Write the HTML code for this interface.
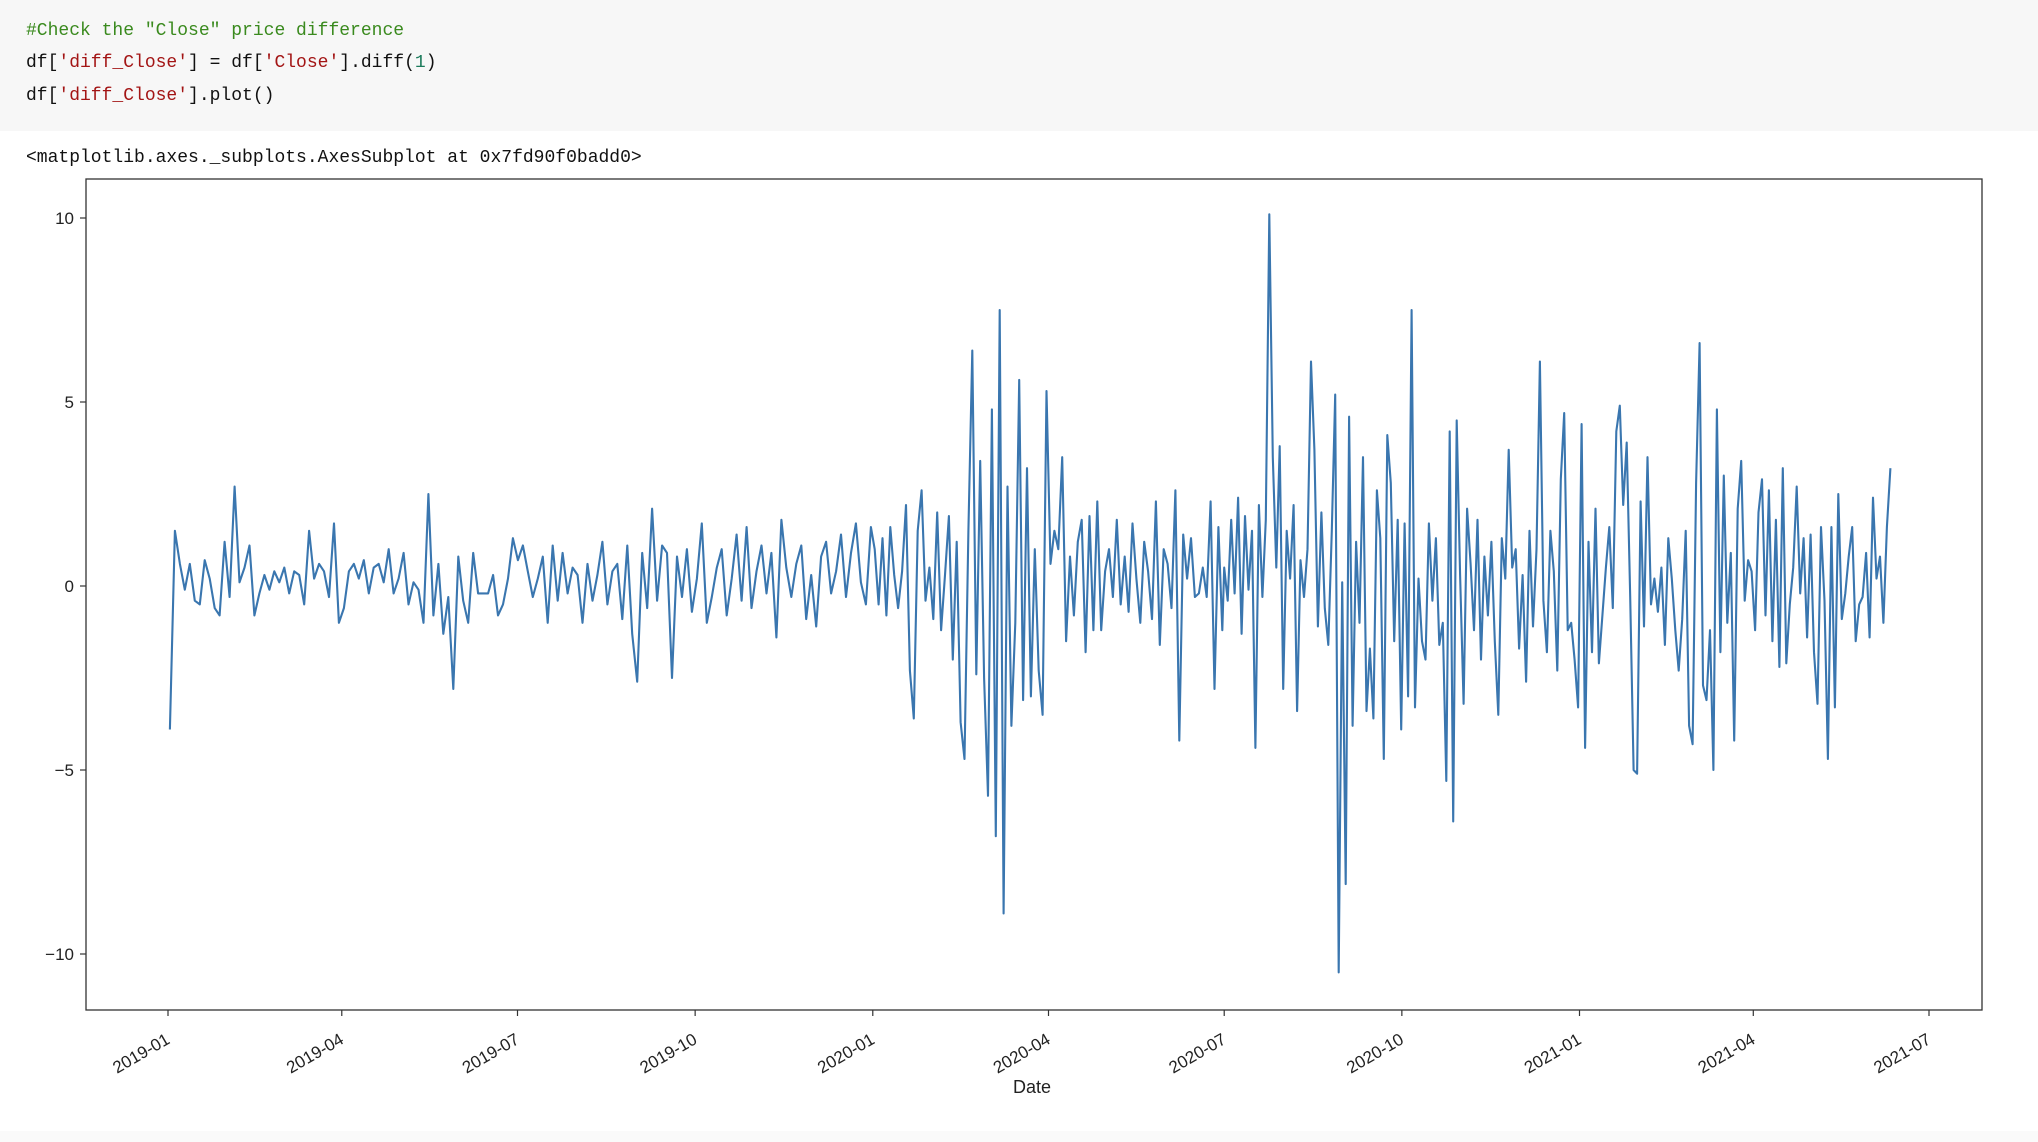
<!DOCTYPE html>
<html><head><meta charset="utf-8"><style>
body{margin:0;width:2038px;height:1142px;background:#fff;overflow:hidden;font-family:"Liberation Sans",sans-serif}
#code{position:absolute;left:0;top:0;width:2038px;height:131px;background:#f7f7f7}
.ln{position:absolute;left:26px;font:18px "Liberation Mono",monospace;color:#111;white-space:pre}
.cm{color:#3a8a1e}.st{color:#a31515}.nm{color:#1a7a5a}
#out{position:absolute;left:26px;top:148px;font:18px "Liberation Mono",monospace;color:#111;white-space:pre}
#foot{position:absolute;left:0;top:1131px;width:2038px;height:11px;background:#fafafa}
svg{position:absolute;left:0;top:0}
</style></head><body>
<div id="code">
<div class="ln" style="top:21px"><span class="cm">#Check the "Close" price difference</span></div>
<div class="ln" style="top:53px">df[<span class="st">'diff_Close'</span>] = df[<span class="st">'Close'</span>].diff(<span class="nm">1</span>)</div>
<div class="ln" style="top:86px">df[<span class="st">'diff_Close'</span>].plot()</div>
</div>
<div id="out">&lt;matplotlib.axes._subplots.AxesSubplot at 0x7fd90f0badd0&gt;</div>
<div id="foot"></div>
<svg id="chart" width="2038" height="1142"></svg>
<script>
const xTickLabels=["2019-01","2019-04","2019-07","2019-10","2020-01","2020-04","2020-07","2020-10","2021-01","2021-04","2021-07"];
const yTicks=[-10,-5,0,5,10];
const segDates=[["2019-01-02","2019-12-31"],["2020-01-02","2020-06-30"],["2020-07-01","2021-06-11"]];
const seg1=[-3.9,1.5,0.6,-0.1,0.6,-0.4,-0.5,0.7,0.2,-0.6,-0.8,1.2,-0.3,2.7,0.1,0.5,1.1,-0.8,-0.2,0.3,-0.1,0.4,0.1,0.5,-0.2,0.4,0.3,-0.5,1.5,0.2,0.6,0.4,-0.3,1.7,-1.0,-0.6,0.4,0.6,0.2,0.7,-0.2,0.5,0.6,0.1,1.0,-0.2,0.2,0.9,-0.5,0.1,-0.1,-1.0,2.5,-0.8,0.6,-1.3,-0.3,-2.8,0.8,-0.4,-1.0,0.9,-0.2,-0.2,-0.2,0.3,-0.8,-0.5,0.2,1.3,0.7,1.1,0.4,-0.3,0.2,0.8,-1.0,1.1,-0.4,0.9,-0.2,0.5,0.3,-1.0,0.6,-0.4,0.3,1.2,-0.5,0.4,0.6,-0.9,1.1,-1.3,-2.6,0.9,-0.6,2.1,-0.4,1.1,0.9,-2.5,0.8,-0.3,1.0,-0.7,0.2,1.7,-1.0,-0.3,0.5,1.0,-0.8,0.2,1.4,-0.4,1.6,-0.6,0.4,1.1,-0.2,0.9,-1.4,1.8,0.5,-0.3,0.6,1.1,-0.9,0.3,-1.1,0.8,1.2,-0.2,0.4,1.4,-0.3,0.9,1.7,0.1,-0.5,1.6];
const seg2=[1.0,-0.5,1.3,-0.8,1.6,0.3,-0.6,0.4,2.2,-2.3,-3.6,1.5,2.6,-0.4,0.5,-0.9,2.0,-1.2,0.3,1.9,-2.0,1.2,-3.7,-4.7,1.5,6.4,-2.4,3.4,-2.5,-5.7,4.8,-6.8,7.5,-8.9,2.7,-3.8,-1.0,5.6,-3.1,3.2,-3.0,1.0,-2.3,-3.5,5.3,0.6,1.5,1.0,3.5,-1.5,0.8,-0.8,1.2,1.8,-1.8,1.9,-1.2,2.3,-1.2,0.4,1.0,-0.3,1.8,-0.5,0.8,-0.7,1.7,0.2,-1.0,1.2,0.4,-0.9,2.3,-1.6,1.0,0.6,-0.6,2.6,-4.2,1.4,0.2,1.3,-0.3,-0.2,0.5,-0.3,2.3,-2.8,1.6,-1.2];
const seg3=[0.5,-0.4,1.8,-0.2,2.4,-1.3,1.9,-0.1,1.5,-4.4,2.2,-0.3,1.8,10.1,3.5,0.5,3.8,-2.8,1.5,0.2,2.2,-3.4,0.7,-0.3,1.0,6.1,3.7,-1.1,2.0,-0.6,-1.6,1.5,5.2,-10.5,0.1,-8.1,4.6,-3.8,1.2,-1.0,3.5,-3.4,-1.7,-3.6,2.6,1.3,-4.7,4.1,2.8,-1.5,1.8,-3.9,1.7,-3.0,7.5,-3.3,0.2,-1.5,-2.0,1.7,-0.4,1.3,-1.6,-1.0,-5.3,4.2,-6.4,4.5,0.3,-3.2,2.1,0.6,-1.2,1.8,-2.0,0.8,-0.8,1.2,-1.5,-3.5,1.3,0.2,3.7,0.5,1.0,-1.7,0.3,-2.6,1.5,-1.1,1.0,6.1,-0.4,-1.8,1.5,0.4,-2.3,2.9,4.7,-1.2,-1.0,-2.0,-3.3,4.4,-4.4,1.2,-1.8,2.1,-2.1,-0.8,0.5,1.6,-0.6,4.2,4.9,2.2,3.9,-0.3,-5.0,-5.1,2.3,-1.1,3.5,-0.5,0.2,-0.7,0.5,-1.6,1.3,0.2,-1.2,-2.3,-0.9,1.5,-3.8,-4.3,2.8,6.6,-2.7,-3.1,-1.2,-5.0,4.8,-1.8,3.0,-1.0,0.9,-4.2,2.1,3.4,-0.4,0.7,0.4,-1.2,2.0,2.9,-0.8,2.6,-1.5,1.8,-2.2,3.2,-2.1,-0.5,0.5,2.7,-0.2,1.3,-1.4,1.4,-1.8,-3.2,1.6,-0.4,-4.7,1.6,-3.3,2.5,-0.9,-0.2,0.8,1.6,-1.5,-0.5,-0.3,0.9,-1.4,2.4,0.2,0.8,-1.0,1.6,3.2];

const svg=document.getElementById('chart');const NS='http://www.w3.org/2000/svg';
const L=86,R=1982,T=179,B=1010;
const d0=Date.parse("2019-01-01"),d1=Date.parse("2021-07-01");
function xs(t){return 168+(t-d0)/(d1-d0)*(1929-168);}
function ys(v){return 586-v*36.8;}
function mk(tag,attrs){const e=document.createElementNS(NS,tag);for(const k in attrs)e.setAttribute(k,attrs[k]);svg.appendChild(e);return e;}
let pts=[];
[seg1,seg2,seg3].forEach((s,i)=>{const a=Date.parse(segDates[i][0]),b=Date.parse(segDates[i][1]);
 s.forEach((v,j)=>{const t=a+(b-a)*j/(s.length-1);pts.push(xs(t).toFixed(1)+','+ys(v).toFixed(1));});});
const line=mk('polyline',{points:pts.join(' '),fill:'none',stroke:'#3a76af','stroke-width':2.1,'stroke-linejoin':'round'});


const frame=mk('rect',{x:L,y:T,width:R-L,height:B-T,fill:'none',stroke:'#333','stroke-width':1.3});


yTicks.forEach(v=>{const y=ys(v);
 mk('line',{x1:L-6,x2:L,y1:y,y2:y,stroke:'#333','stroke-width':1.2});
 const t=mk('text',{x:L-12,y:y+6,'text-anchor':'end','font-size':17,fill:'#222','font-family':'Liberation Sans, sans-serif'});
 t.textContent=v<0?'\u2212'+(-v):String(v);
 
 });
xTickLabels.forEach(s=>{const x=xs(Date.parse(s+"-01"));
 mk('line',{x1:x,x2:x,y1:B,y2:B+6,stroke:'#333','stroke-width':1.2});
 const t=mk('text',{x:x-2,y:B+34,'text-anchor':'end','font-size':17,fill:'#222','font-family':'Liberation Sans, sans-serif',transform:`rotate(-30 ${x-2} ${B+24})`});
 t.textContent=s;
 
 });
const xt=mk('text',{x:1032,y:1093,'text-anchor':'middle','font-size':18,fill:'#222','font-family':'Liberation Sans, sans-serif'});
xt.textContent='Date';


</script>
</body></html>
